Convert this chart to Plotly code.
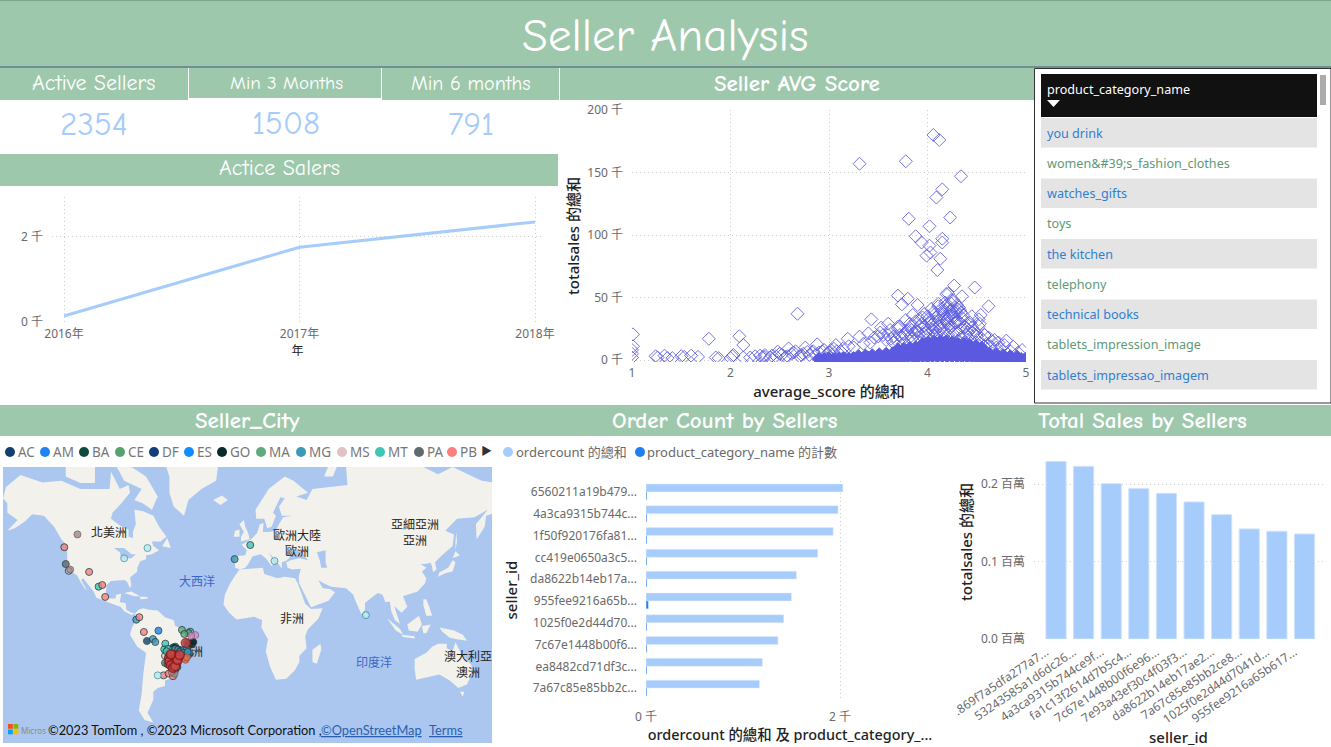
import numpy as np
import plotly.graph_objects as go

W, H = 1331, 747
BAND = "#9DC8AB"
BLUE = "#A6CCFB"
DEEP = "#1E7FF0"
VIOLET = "#5B5AE0"
GRID = "#CFCFCF"
TICK = "#6A6A6A"
COMIC = "Comic Sans MS, Comic Neue, Lato, sans-serif"
BASE = "Noto Sans, Noto Sans CJK TC, sans-serif"

# line chart
years = [2016, 2017, 2018]
active_sellers = [140, 1760, 2354]

# kpi cards
kpi_titles = ["Active Sellers", "Min 3 Months", "Min 6 months"]
kpi_title_sizes = [22, 19, 20]
kpi_values = ["2354", "1508", "791"]

# scatter: seller score vs sales (in thousands)
score_top = [4.06, 4.12, 3.31, 3.78, 4.34, 4.15, 4.09, 3.81, 4.23, 4.02, 3.88, 4.15, 4.15, 3.94, 4.02, 4.03, 3.99, 4.13, 4.10,
             4.27, 4.48, 3.70, 3.80, 4.21, 4.35, 4.62, 2.68, 3.43, 3.74, 3.90, 4.11, 4.26, 4.19, 3.78, 3.85, 3.97, 4.29, 4.45, 4.52, 4.54,
             3.60, 3.53, 3.70, 3.40, 3.31, 3.19, 3.07, 2.88, 2.76, 2.59, 2.48, 2.09, 2.13, 1.78, 1.01, 4.80, 4.87, 4.66, 4.58]
sales_top = [180, 176, 157, 159, 147, 136.5, 130, 113, 114, 107, 99, 97, 94, 94, 91.5, 86, 83.5, 81, 72,
             59.5, 58, 51.5, 49, 53, 51, 43, 37, 32.5, 44.5, 44, 45, 48, 52.8, 32, 36, 37, 39, 35, 32.5, 36,
             29, 26, 26.6, 21.3, 18.7, 17, 12, 12.5, 10, 9.3, 6.7, 19, 12, 17, 20.5, 15.5, 10.7, 14.7, 20]
score_mid = [3.35, 3.46, 3.52, 3.58, 3.62, 3.66, 3.72, 3.76, 3.82, 3.84, 3.88, 3.92, 3.95, 3.99, 4.01, 4.04, 4.06, 4.08, 4.11, 4.13,
             4.14, 4.17, 4.18, 4.20, 4.22, 4.24, 4.25, 4.27, 4.30, 4.32, 4.33, 4.36, 4.38, 4.41, 4.43, 4.47, 4.50, 4.55, 4.60, 4.64,
             3.68, 3.74, 3.79, 3.83, 3.87, 3.91, 3.96, 4.00, 4.05, 4.09, 4.12, 4.16, 4.19, 4.23, 4.26, 4.29, 4.34, 4.39, 4.44, 4.49,
             3.75, 3.86, 3.93, 4.03, 4.07, 4.10, 4.14, 4.18, 4.21, 4.24, 4.28, 4.31, 4.37, 4.42, 4.57, 4.70, 4.74, 4.84, 4.92, 4.96]
sales_mid = [13, 18, 22, 16, 24, 19, 27, 21, 29, 24, 31, 27, 34, 25, 33, 28, 38, 31, 36, 25,
             41, 33, 43, 29, 36, 45, 27, 34, 41, 24, 30, 36, 27, 22, 30, 24, 19, 17, 13, 11,
             16, 18, 23, 19, 22, 18, 21, 17, 24, 20, 27, 22, 31, 26, 21, 30, 18, 20, 16, 14,
             13, 15, 14, 16, 19, 15, 18, 17, 20, 16, 22, 15, 14, 12, 11, 10, 9, 7, 6, 8]
score_dense = [3.55, 3.63, 3.70, 3.78, 3.83, 3.89, 3.94, 3.98, 4.02, 4.06, 4.09, 4.13, 4.16, 4.20, 4.23, 4.26, 4.30, 4.34, 4.38, 4.42, 4.46, 4.52, 4.58, 4.68,
               3.42, 3.50, 3.60, 3.65, 3.72, 3.80, 3.85, 3.90, 3.97, 4.01, 4.05, 4.08, 4.12, 4.17, 4.22, 4.25, 4.28, 4.32, 4.36, 4.40, 4.45, 4.50, 4.53, 4.62, 4.72, 4.78,
               3.92, 4.00, 4.04, 4.08, 4.11, 4.15, 4.18, 4.21, 4.24, 4.27, 4.30, 4.33,
               2.35, 2.42, 2.50, 2.58, 2.64, 2.72, 2.78, 2.86, 2.93, 2.98, 3.02, 3.08, 3.14, 3.20, 3.25]
sales_dense = [20, 17, 25, 19, 27, 23, 29, 22, 30, 26, 34, 29, 37, 32, 39, 35, 31, 38, 26, 29, 22, 27, 20, 16,
               14, 19, 20, 14, 20, 24, 18, 23, 27, 21, 29, 25, 32, 28, 35, 40, 30, 42, 33, 25, 26, 21, 29, 18, 14, 12,
               33, 35, 41, 37, 43, 39, 46, 42, 48, 38, 44, 40,
               2.5, 3.5, 5, 3, 6, 4, 6.5, 4, 7, 5, 8, 7, 9, 11, 10]
score_low = [1.00, 1.00, 1.00, 1.01, 1.24, 1.26, 1.33, 1.36, 1.41, 1.50, 1.53, 1.60, 1.67, 1.85, 1.88, 2.00, 2.02, 2.03, 2.13, 2.20,
             2.25, 2.30, 2.33, 2.35, 2.40, 2.46, 2.52, 2.56, 2.62, 2.66, 2.70, 2.74, 2.80, 2.84, 2.90, 2.95, 3.00, 3.05, 3.12]
sales_low = [2, 5, 8, 11, 3, 2, 3.5, 1.5, 1.5, 3, 2.5, 3.5, 2.5, 2, 1.5, 1.5, 3, 4, 2, 2,
             3, 3.5, 2.5, 4, 2, 3, 4, 2.5, 5, 7, 3, 5, 4, 7, 6, 8, 6, 9, 7]
# packed strip near the axis, drawn solid
score_core = [2.90, 2.95, 3.00, 3.05, 3.10, 3.15, 3.20, 3.25, 3.30, 3.35, 3.40, 3.45, 3.50, 3.55, 3.60, 3.65, 3.70, 3.75, 3.80, 3.85, 3.90, 3.95,
              4.00, 4.05, 4.10, 4.15, 4.20, 4.25, 4.30, 4.35, 4.40, 4.45, 4.50, 4.55, 4.60, 4.65, 4.70, 4.75, 4.80, 4.85, 4.90, 4.95, 5.00,
              3.30, 3.37, 3.44, 3.51, 3.58, 3.65, 3.72, 3.79, 3.86, 3.93, 4.00, 4.07, 4.14, 4.21, 4.28, 4.35, 4.42, 4.49, 4.56, 4.63, 4.70, 4.77, 4.84, 4.91,
              3.70, 3.76, 3.82, 3.88, 3.94, 4.00, 4.06, 4.12, 4.18, 4.24, 4.30, 4.36, 4.42, 4.48,
              3.95, 4.01, 4.07, 4.13, 4.19, 4.25, 4.31, 4.37, 4.43, 4.49, 4.55]
sales_core = [0.5, 1.0, 1.2, 0.8, 1.4, 1.6, 1.2, 1.5, 1.8, 1.4, 1.7, 1.6, 2.0, 1.8, 2.2, 2.0, 2.4, 2.2, 2.5, 2.6, 2.4, 2.8,
              2.6, 2.9, 2.8, 3.0, 2.8, 2.9, 2.7, 2.6, 2.8, 2.5, 2.4, 2.2, 2.0, 2.1, 1.8, 1.6, 1.2, 1.0, 1.1, 0.8, 1.0,
              3.0, 3.5, 3.8, 4.5, 5.0, 5.5, 6.0, 6.5, 6.8, 7.0, 7.5, 7.2, 7.8, 7.5, 7.0, 7.2, 6.5, 6.0, 5.5, 5.0, 4.5, 3.8, 3.0, 2.6,
              8.5, 9.0, 9.5, 10, 10.5, 11, 10.5, 11.5, 11, 11, 10.5, 10, 9.5, 8.5,
              13, 14, 14.5, 15, 15, 14, 13, 13, 12, 11, 10]

# order count chart
order_ids = ["6560211a19b479...", "4a3ca9315b744c...", "1f50f920176fa81...", "cc419e0650a3c5...", "da8622b14eb17a...",
             "955fee9216a65b...", "1025f0e2d44d70...", "7c67e1448b00f6...", "ea8482cd71df3c...", "7a67c85e85bb2c..."]
order_counts = [2030, 1980, 1930, 1770, 1550, 1500, 1420, 1360, 1200, 1170]
category_counts = [10, 10, 10, 10, 10, 25, 10, 10, 10, 10]

# total sales chart
sales_ids = [".869f7a5dfa277a7...", "53243585a1d6dc26...", "4a3ca9315b744ce9f...", "fa1c13f2614d7b5c4...", "7c67e1448b00f6e96...",
             "7e93a43ef30c4f03f3...", "da8622b14eb17ae2...", "7a67c85e85bb2ce8...", "1025f0e2d44d7041d...", "955fee9216a65b617..."]
total_sales = [229000, 222800, 200400, 194000, 188000, 176800, 160400, 142000, 139000, 135500]

# slicer
slicer_rows = ["you drink", "women&amp;#39;s_fashion_clothes", "watches_gifts", "toys", "the kitchen",
               "telephony", "technical books", "tablets_impression_image", "tablets_impressao_imagem"]

# map: sellers per state, lon/lat
state_names = ["AC", "AM", "BA", "CE", "DF", "ES", "GO", "MA", "MG", "MS", "MT", "PA", "PB"]
state_colors = ["#12406F", "#1E82F0", "#0F4A3E", "#54A36E", "#123E7A", "#118DFF", "#0B2A2A", "#5FA97C", "#3A98B8", "#E0C2C4", "#3FC6B5", "#5F6B6D", "#FC7F7F"]
state_dots = [10, 45, 84, 120, 154, 189, 222, 261, 301, 342, 380, 419, 452]
state_lon = [[-69.4], [-61.5], [-40.5, -42, -38.5], [-39.7, -41], [-48, -47.5], [-41, -40.5], [-51.5, -50, -42, -41, -38, -37.6],
             [-45.4, -43.8], [-52, -50, -48, -46, -44, -42, -47, -44.5, -41.5, -65.3, -63.7, -9.3, -76.7], [-57, -55, -123], [-56.8, -57.5, -55, -56, -102.5, 1.4],
             [-125, -57, -55, -52, -50, -48.5], [-126, -109, -100, -98, -74.6, -71.5, -58, -54.5, -51.5]]
state_lat = [[-10.2], [-3.2], [-13, -14.5, -12.5], [-3.9, -4.8], [-15.8, -16.5], [-19.5, -18], [-14.5, -14, -11.5, -12.5, -11, -10.9],
             [-2.7, -5.5], [-16, -15.5, -16, -16.5, -16, -15.5, -17.5, -18, -17.5, -8.9, -10.9, 41.6, 4.3], [-20, -21.5, 35.3], [-12, -15.8, -15.5, -17, 26, 48.4],
             [39, -24.5, -25.5, -28, -28.8, -27], [47.4, 34.7, 27, 19.5, 6, -4.1, -32, -31, -32.5]]
# further states past the legend arrow
extra_names = ["RJ", "SC", "RS", "PE", "SP", "Other"]
extra_colors = ["#D9714E", "#2E9E8F", "#A08A8A", "#C48BC0", "#C8494A", "#BFE6EA"]
extra_edges = ["#A04A30", "#1C6F65", "#6A5A5A", "#8A5A88", "#8B1A1A", "#3D97A5"]
extra_lon = [[-44, -43, -42], [-52, -50.3, -51.3], [-50.5, -52.5, -117, -122], [-36.3, -39], [-54, -52.5, -51, -49.5, -48, -50, -52, -54, -51, -49, -53, -51.5, -50, -48.5, -53, -47, -42.7],
             [-85, -69, 18, 80.6, -62]]
extra_lat = [[-21.5, -22.5, -21], [-26.5, -27, -25], [-31, -30, 53, 36], [-6.2, -6.7], [-21, -20, -19.5, -20.5, -21, -22, -23, -23.5, -24.5, -24, -26, -27.5, -26.5, -22.5, -19, -19.5, -11.5],
             [42, 47, 40.6, 7.4, -32]]

# coastlines, coarse lon/lat outlines
north_america = [(-168, 65.5), (-166, 68.5), (-156, 71.3), (-141, 69.6), (-128, 70), (-115, 68), (-108, 68), (-95, 68), (-94, 72), (-88, 68), (-82, 69), (-81, 67), (-87, 64), (-93, 61), (-94, 59), (-88, 56.5), (-82, 55), (-82, 52), (-79, 51.5), (-79, 54), (-77, 57), (-78, 62), (-72, 61.5), (-65, 60), (-61, 56), (-56, 52), (-60, 50), (-66, 50), (-65, 48), (-61, 46), (-66, 44), (-70, 43.5), (-70, 41.5), (-74, 40.5), (-76, 37), (-76, 35), (-81, 31.5), (-80, 27), (-81, 25), (-83, 29), (-85, 30), (-90, 29.5), (-94, 29.5), (-97, 27), (-97.5, 22), (-95, 18.5), (-91, 18.5), (-90.5, 21), (-87, 21.5), (-88, 16), (-84, 15.5), (-83.5, 11), (-80, 9), (-77.5, 8.5), (-80, 7.5), (-85, 10), (-87.5, 13), (-92, 14.5), (-96, 16), (-104, 19), (-106, 23), (-110, 27.5), (-113, 31), (-114.5, 30), (-110, 23), (-112, 25), (-115, 29), (-117, 32.5), (-120.5, 34.5), (-124, 40), (-124, 48), (-128, 51), (-133, 56), (-140, 60), (-148, 60.5), (-153, 58), (-160, 55.5), (-165, 54.5), (-158, 58.5), (-165, 61), (-165, 64)]
south_america = [(-77.5, 8.5), (-75, 11), (-72, 12), (-68, 11), (-62, 10.5), (-57, 6), (-51, 4), (-50, 0), (-44, -2.5), (-38, -3.5), (-35, -6), (-35, -9), (-39, -14), (-39, -18), (-41, -22), (-45, -23.5), (-48.5, -26), (-49, -29), (-54, -34), (-57, -35), (-57, -38), (-62, -39), (-65, -41), (-65, -45), (-69, -51), (-65, -55), (-71, -54), (-75, -50), (-73, -42), (-72, -32), (-70, -18), (-76, -14), (-81, -6), (-80, -2), (-78, 2), (-77, 7)]
africa = [(-6, 36), (10, 37), (11, 33.5), (20, 31), (25, 32), (32, 31), (34, 28), (37, 21), (39, 15), (43, 11.5), (51, 12), (48, 5), (41, -2), (39, -7), (40, -15), (35, -20), (35, -24), (32, -29), (26, -34), (19, -34.5), (15, -27), (12, -17), (13.5, -9), (9, -1), (9.5, 4), (4, 6.3), (-4, 5), (-8, 4.5), (-13, 9), (-17, 14.5), (-16, 21), (-13, 27), (-9.5, 32)]
eurasia = [(-9, 37), (-9, 43), (-2, 43.5), (-1, 46), (-4.5, 48.5), (2, 51), (6, 53.5), (8, 57), (10.5, 57.5), (10, 54), (14, 54), (19, 54.5), (21, 57), (24, 59.5), (30, 60), (23, 60), (21, 63), (25, 65.5), (22, 65.8), (17, 61), (19, 60), (16, 56), (13, 55.5), (11, 59), (5.5, 59), (5, 62), (14, 68), (25, 71), (31, 70), (41, 67), (33, 66), (40, 65), (44, 68), (55, 68.5), (68, 69), (67, 73), (80, 73), (104, 77), (113, 74), (130, 71.5), (140, 73), (160, 70), (170, 69.5), (180, 69), (180, 65), (177, 62.5), (163, 60), (162, 56), (156.5, 51), (156, 57), (164, 62), (155, 59.5), (143, 59), (135, 54.5), (141, 53), (140, 48), (132, 43), (128, 40), (129, 36), (126.5, 34.5), (126, 37.5), (125, 39.7), (121, 39), (118, 39), (122, 37), (119, 35), (122, 31), (121, 28), (116, 23), (110, 21), (106, 20), (109, 13), (105, 9), (100, 13.5), (103, 3), (104, 1.3), (100.5, 4), (98, 10), (97, 16.5), (94, 16), (92, 21), (89, 22), (87, 21), (80, 15.5), (80, 11), (77.5, 8), (73, 18), (72, 21), (67, 25), (61, 25.5), (57, 26), (52, 28), (48, 30), (51, 25), (56, 24.5), (59.5, 22.5), (55, 17), (43, 12.7), (39, 21), (35, 28), (34.5, 31.5), (36, 36.5), (30, 36), (27, 37), (26, 40), (29, 41), (35, 42), (41, 41), (37, 45), (33, 46), (30, 46), (28, 42), (26, 40.8), (23, 40), (23, 36.5), (20, 40), (14, 45), (18, 40), (16, 38), (12, 42), (8.5, 44), (3, 43), (0, 39), (-2, 37), (-5.5, 36)]
australia = [(114, -22), (122, -18), (126, -14), (130, -12), (136, -12), (136, -15), (140, -17), (142, -11), (146, -19), (153, -26), (153, -31), (150, -37), (144, -39), (138, -35), (131, -31.5), (124, -33), (115, -34.5), (114, -28)]
islands = [
    [(-44, 60), (-51, 63), (-54, 67), (-54, 71), (-60, 76), (-70, 77), (-60, 82), (-30, 83), (-18, 78), (-22, 70), (-32, 68), (-41, 65)],
    [(-80, 73), (-70, 71), (-62, 66), (-66, 62), (-72, 64), (-78, 65), (-73, 68), (-85, 70), (-90, 73)],
    [(-125, 74), (-115, 74), (-105, 74), (-105, 69.5), (-115, 69.5), (-125, 71)],
    [(-85, 22), (-80, 23), (-74, 20), (-78, 20)],
    [(-74, 19.8), (-69, 19.5), (-69, 18.3), (-74, 18)],
    [(-59, 47.8), (-55.5, 51.5), (-53, 47)],
    [(44, -16), (49.5, -12), (50, -16), (47, -25), (44, -24)],
    [(-5, 50), (1, 51), (0, 53.5), (-2, 56), (-3, 58.5), (-6, 57), (-3, 54), (-5, 52)],
    [(-10, 52), (-6, 52), (-6, 55), (-9, 54.5)],
    [(-24, 65), (-18, 66.3), (-14, 65), (-19, 63.5)],
    [(130, 32), (135, 34), (140, 35), (142, 40), (140, 41), (137, 37), (131, 34.5)],
    [(140, 42), (145, 43.5), (142, 45.5)],
    [(142, 46), (143, 50), (142.5, 54), (142, 50)],
    [(80, 9.5), (82, 7), (80.5, 6), (79.8, 8)],
    [(120, 18), (122, 18), (124, 13), (126, 7), (122, 7), (120, 14)],
    [(109, 1), (117, 7), (119, 1), (116, -4), (110, -3)],
    [(95, 5.5), (104, -2), (106, -6), (101, -3)],
    [(105, -6), (114, -7), (114, -8.5), (106, -7.5)],
    [(119, 0), (125, 1), (122, -5), (120, -5)],
    [(131, -1), (141, -3), (147, -6), (150, -10), (143, -9), (138, -8), (133, -4)],
    [(145, -41), (148, -41), (147, -43.5)],
    [(52, 71), (56, 74), (66, 76.5), (58, 71)],
]
water = [
    [(47, 45), (53, 46), (53, 40), (54, 37), (50, 37), (49, 41)],
    [(-92, 47), (-85, 47), (-80, 44), (-77, 44), (-80, 42), (-87, 42), (-88, 45)],
]
map_labels = [("北美洲", 109, 531, "#222"), ("歐洲大陸<br>歐洲", 297, 542, "#222"), ("亞細亞洲<br>亞洲", 415, 531, "#222"),
              ("大西洋", 197, 580, "#3A66C4"), ("非洲", 292, 617, "#222"), ("洲", 197, 650, "#222"), ("印度洋", 374, 661, "#3A66C4"), ("澳大利亞<br>澳洲", 468, 663, "#222")]


def px(x):
    return x / W


def py(y):
    return 1 - y / H


def merc(lat):
    return np.log(np.tan(np.radians(45 + np.asarray(lat, dtype=float) / 2)))


def text(s, x, y, size=12, color="#222", family=BASE, anchor="center", weight=None):
    # left anchored annotations sit 2px inside their spot
    if anchor == "left":
        x -= 2
    return dict(text=s, x=px(x), y=py(y), xref="paper", yref="paper", showarrow=False, xanchor=anchor, yanchor="middle",
                font=dict(size=size, color=color, family=family, weight=weight))


def box(x0, y0, x1, y1, fill, line=None, kind="rect"):
    return dict(type=kind, xref="paper", yref="paper", x0=px(x0), x1=px(x1), y0=py(y0), y1=py(y1), fillcolor=fill,
                line=dict(width=1 if line else 0, color=line or fill), layer="below")


def axis(x0, x1, **kw):
    base = dict(domain=[px(x0), px(x1)], showline=False, zeroline=False, ticks="", automargin=False, gridcolor=GRID, griddash="1px,3px", gridwidth=1,
                tickfont=dict(size=12, color=TICK, family=BASE))
    base.update(kw)
    return base


def yaxis(top, bottom, **kw):
    base = dict(domain=[py(bottom), py(top)], showline=False, zeroline=False, ticks="", automargin=False, gridcolor=GRID, griddash="1px,3px", gridwidth=1,
                ticklabelstandoff=8, tickfont=dict(size=12, color=TICK, family=BASE))
    base.update(kw)
    return base


def axis_title(s, standoff, size=15, weight=500):
    return dict(text=s, standoff=standoff, font=dict(size=size, color="#222", family="Noto Sans, Noto Sans CJK TC", weight=weight))


fig = go.Figure()

# map first so the charts never sit under it
for outline in [north_america, south_america, africa, eurasia, australia] + islands:
    fig.add_trace(go.Scatter(x=[p[0] for p in outline], y=merc([p[1] for p in outline]), mode="lines", fill="toself", fillcolor="#F2F1EC",
                             line=dict(width=0, color="#F2F1EC"), xaxis="x", yaxis="y", hoverinfo="skip"))
for outline in water:
    fig.add_trace(go.Scatter(x=[p[0] for p in outline], y=merc([p[1] for p in outline]), mode="lines", fill="toself", fillcolor="#ABC7F0",
                             line=dict(width=0, color="#ABC7F0"), xaxis="x", yaxis="y", hoverinfo="skip"))
for name, color, lon, lat in zip(state_names, state_colors, state_lon, state_lat):
    fig.add_trace(go.Scatter(x=lon, y=merc(lat), mode="markers", name=name, xaxis="x", yaxis="y",
                             marker=dict(size=7, color=color, opacity=0.8, line=dict(width=1, color="#1C3A3A"))))
for name, color, edge, lon, lat in zip(extra_names, extra_colors, extra_edges, extra_lon, extra_lat):
    fig.add_trace(go.Scatter(x=lon, y=merc(lat), mode="markers", name=name, xaxis="x", yaxis="y",
                             marker=dict(size=7 if name != "SP" else 9, color=color, opacity=0.8, line=dict(width=1.5 if name == "SP" else 1, color=edge))))

fig.add_trace(go.Scatter(x=years, y=active_sellers, mode="lines", line=dict(color=BLUE, width=3), xaxis="x2", yaxis="y2"))

fig.add_trace(go.Scatter(x=score_core, y=[v * 1000 for v in sales_core], mode="markers", xaxis="x3", yaxis="y3",
                         marker=dict(symbol="diamond", size=10, color=VIOLET, line=dict(width=1, color=VIOLET))))
for xs, ys in [(score_low, sales_low), (score_dense, sales_dense), (score_mid, sales_mid), (score_top, sales_top)]:
    fig.add_trace(go.Scatter(x=xs, y=[v * 1000 for v in ys], mode="markers", xaxis="x3", yaxis="y3",
                             marker=dict(symbol="diamond-open", size=10, color="rgba(91,90,224,0.85)", line=dict(width=1))))

fig.add_trace(go.Bar(y=order_ids, x=order_counts, orientation="h", marker_color=BLUE, xaxis="x4", yaxis="y4", name="ordercount 的總和"))
fig.add_trace(go.Bar(y=order_ids, x=category_counts, orientation="h", marker_color=DEEP, xaxis="x4", yaxis="y4", name="product_category_name 的計數"))

fig.add_trace(go.Bar(x=sales_ids, y=total_sales, marker=dict(color=BLUE, line=dict(color="#CFE2FC", width=1)), xaxis="x5", yaxis="y5"))

# page furniture
shapes = [
    box(0, 0, W, 66, BAND),
    box(0, 0, W, 1, "#7FA58D"),
    box(0, 66, W, 68, "#6F8F90"),
    box(0, 68, 188, 100, BAND),
    box(189, 68, 381, 98, BAND),
    box(382, 68, 559, 100, BAND),
    box(0, 154, 558, 186, BAND),
    box(560, 68, 1034, 100, BAND),
    box(0, 405, W, 436, BAND),
    box(1034.5, 68.5, 1331, 403, "#FFFFFF", "#333333"),
    box(1041, 74, 1317, 117, "#111111"),
    box(1320, 75, 1326, 105, "#ABABAB"),
    # slicer dropdown triangle
    dict(type="path", xref="paper", yref="paper", layer="above", fillcolor="#FFFFFF", line=dict(width=0),
         path=f"M {px(1047)} {py(100)} L {px(1060)} {py(100)} L {px(1053.5)} {py(107)} Z"),
]
annotations = [
    text("Seller Analysis", 665, 36, size=47, color="#FFFFFF", family=COMIC),
    text("Actice Salers", 279, 168, size=22, color="#FFFFFF", family=COMIC),
    text("Seller AVG Score", 797, 84, size=23, color="#FFFFFF", family=COMIC, weight="bold"),
    text("Seller_City", 248, 420, size=23, color="#FFFFFF", family=COMIC, weight="bold"),
    text("Order Count by Sellers", 725, 420, size=23, color="#FFFFFF", family=COMIC, weight="bold"),
    text("Total Sales by Sellers", 1142, 420, size=23, color="#FFFFFF", family=COMIC, weight="bold"),
    text("product_category_name", 1047, 90, size=12.6, color="#FFFFFF", anchor="left"),
]
for title, tsize, value, cx, cy in zip(kpi_titles, kpi_title_sizes, kpi_values, [94, 286, 471], [124, 123, 124]):
    annotations.append(text(title, cx, 83, size=tsize, color="#FFFFFF", family=COMIC))
    annotations.append(text(value, cx, cy, size=33, color=BLUE, family=COMIC))

row_pitch = 30.25
for i, label in enumerate(slicer_rows):
    mid = 133 + i * row_pitch
    if i % 2 == 0:
        shapes.append(box(1041, mid - 15, 1317, mid + 14.5, "#E4E4E4"))
    annotations.append(text(label, 1047, mid, size=12.6, color="#2E7FD4" if i % 2 == 0 else "#5D9A78", anchor="left"))

# map legend row and the chart legend, both sit on fixed pixel spots
for name, color, dot in zip(state_names, state_colors, state_dots):
    shapes.append(box(dot - 5, 447, dot + 5, 457, color, kind="circle"))
    annotations.append(text(name, dot + 8, 452, size=13.5, color="#777777", anchor="left"))
annotations.append(text("▶", 486, 451, size=11, color="#333333"))
shapes.append(box(503, 447, 513, 457, BLUE, kind="circle"))
annotations.append(text("ordercount 的總和", 516, 452, size=13, color="#6A6A6A", anchor="left"))
shapes.append(box(635, 447, 645, 457, DEEP, kind="circle"))
annotations.append(text("product_category_name 的計數", 647, 452, size=13, color="#6A6A6A", anchor="left"))

for label, x, y, color in map_labels:
    annotations.append(text(label, x, y, size=12, color=color, family="Noto Sans CJK TC"))
for x0, y0, color in [(8, 724, "#F25022"), (13.5, 724, "#7FBA00"), (8, 729.5, "#00A4EF"), (13.5, 729.5, "#FFB900")]:
    shapes.append(dict(type="rect", xref="paper", yref="paper", x0=px(x0), x1=px(x0 + 4.8), y0=py(y0), y1=py(y0 + 4.8),
                       fillcolor=color, line=dict(width=0), layer="above"))
annotations.append(text("Micros", 21, 730, size=8, color="#8A8A8A", anchor="left"))
annotations.append(text("©2023 TomTom , ©2023 Microsoft Corporation ,", 48, 730, size=12.8, color="#111111", family="Lato", anchor="left"))
annotations.append(text("<u>©OpenStreetMap</u>", 321, 730, size=12.8, color="#2A5FB0", family="Lato", anchor="left"))
annotations.append(text("<u>Terms</u>", 429, 730, size=12.8, color="#2A5FB0", family="Lato", anchor="left"))

fig.update_layout(
    width=W, height=H, margin=dict(l=0, r=0, t=0, b=0, pad=0), paper_bgcolor="#FFFFFF", plot_bgcolor="rgba(0,0,0,0)",
    showlegend=False, barmode="group", bargap=0.27, bargroupgap=0, hovermode=False,
    shapes=shapes, annotations=annotations, font=dict(family=BASE),
    # map panel
    xaxis=axis(3, 492, range=[-168, 167], visible=False, showgrid=False),
    yaxis=yaxis(467, 743, range=[(626 - 743) / 83.65, (626 - 467) / 83.65], visible=False, showgrid=False, anchor="x"),
    # active sellers line
    xaxis2=axis(52, 543, range=[2016 - 12 / 235.5, 2018 + 8 / 235.5], tickvals=years, ticktext=["2016年", "2017年", "2018年"], anchor="y2",
                ticklabelstandoff=3, title=axis_title("年", 0, size=12, weight=400)),
    yaxis2=yaxis(197, 322, range=[0, 2941], tickvals=[0, 2000], ticktext=["0 千", "2 千"], anchor="x2"),
    # score scatter, markers clip at the frame
    xaxis3=axis(632, 1026, range=[1, 5], tickvals=[1, 2, 3, 4, 5], anchor="y3", ticklabelstandoff=2, title=axis_title("average_score 的總和", 4)),
    yaxis3=yaxis(110, 362, range=[-1600, 200000], tickvals=[0, 50000, 100000, 150000, 200000], ticktext=["0 千", "50 千", "100 千", "150 千", "200 千"],
                 anchor="x3", title=axis_title("totalsales 的總和", 4)),
    # order counts, frame runs on past the 2 千 gridline
    xaxis4=axis(646, 934, range=[0, 2969], tickvals=[0, 2000], ticktext=["0 千", "2 千"], anchor="y4", ticklabelstandoff=9,
                title=axis_title("ordercount 的總和 及 product_category_...", 4, size=14.4)),
    yaxis4=yaxis(481, 699, autorange=False, range=[9.5, -0.5], showgrid=False, anchor="x4", title=axis_title("seller_id", 8)),
    # total sales
    xaxis5=axis(1034, 1323, range=[-0.797, 9.67], tickangle=-34, showgrid=False, anchor="y5", ticklabelstandoff=3, ticklabelshift=-10,
                title=axis_title("seller_id", 0)),
    yaxis5=yaxis(445, 639, range=[0, 250323], tickvals=[0, 100000, 200000], ticktext=["0.0 百萬", "0.1 百萬", "0.2 百萬"], anchor="x5",
                 title=axis_title("totalsales 的總和", 4)),
)
# ocean sits behind the map panel only
fig.update_layout(shapes=list(fig.layout.shapes) + [box(3, 467, 492, 743, "#ABC7F0")])

fig.write_html("out.html", post_script="document.body.style.margin='0';", config={"displayModeBar": False})
